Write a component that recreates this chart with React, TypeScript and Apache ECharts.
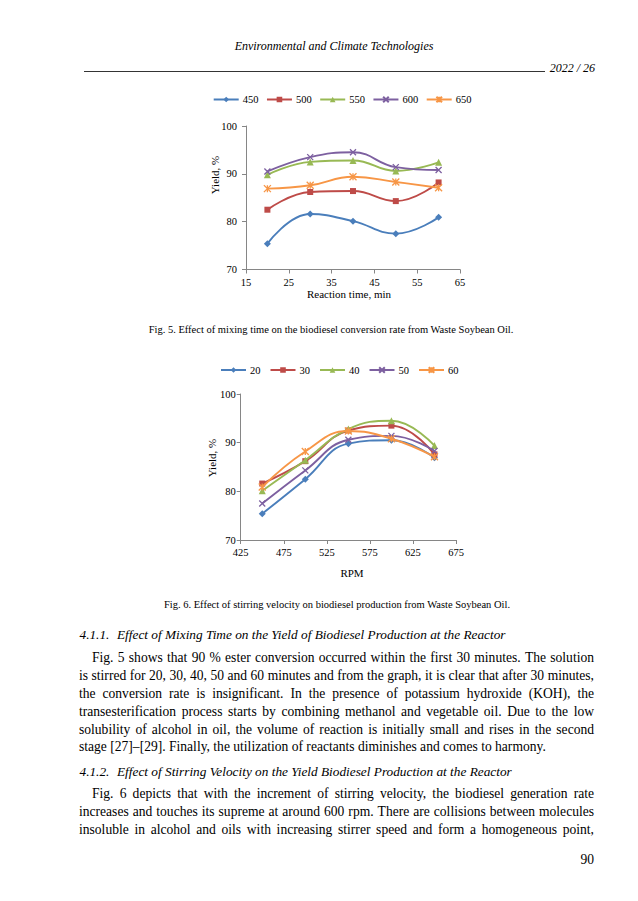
import React, { useEffect, useRef } from 'react';
import * as echarts from 'echarts';

// ---------- data ----------
const reactionTimes = [20, 30, 40, 50, 60];
const rpmValues = [450, 500, 550, 600, 650];
const yield450 = [75.4, 81.6, 80.1, 77.5, 80.9];
const yield500 = [82.5, 86.2, 86.4, 84.3, 88.2];
const yield550 = [89.8, 92.5, 92.8, 90.6, 92.4];
const yield600 = [90.5, 93.5, 94.5, 91.4, 90.8];
const yield650 = [86.9, 87.6, 89.4, 88.3, 87.1];
const yieldsByRpm = [yield450, yield500, yield550, yield600, yield650];

const timeAxisTicks = { min: 15, max: 65, interval: 10 };
const rpmAxisTicks = { min: 425, max: 675, interval: 50 };
const yieldAxisTicks = { min: 70, max: 100, interval: 10 };

const headerTitle = 'Environmental and Climate Technologies';
const headerIssue = '2022 / 26';
const caption5 = 'Fig. 5. Effect of mixing time on the biodiesel conversion rate from Waste Soybean Oil.';
const caption6 = 'Fig. 6. Effect of stirring velocity on biodiesel production from Waste Soybean Oil.';
const heading1Num = '4.1.1.';
const heading1Text = 'Effect of Mixing Time on the Yield of Biodiesel Production at the Reactor';
const heading2Num = '4.1.2.';
const heading2Text = 'Effect of Stirring Velocity on the Yield Biodiesel Production at the Reactor';
const para1 = [
  'Fig. 5 shows that 90 % ester conversion occurred within the first 30 minutes. The solution',
  'is stirred for 20, 30, 40, 50 and 60 minutes and from the graph, it is clear that after 30 minutes,',
  'the conversion rate is insignificant. In the presence of potassium hydroxide (KOH), the',
  'transesterification process starts by combining methanol and vegetable oil. Due to the low',
  'solubility of alcohol in oil, the volume of reaction is initially small and rises in the second',
  'stage [27]–[29]. Finally, the utilization of reactants diminishes and comes to harmony.',
];
const para2 = [
  'Fig. 6 depicts that with the increment of stirring velocity, the biodiesel generation rate',
  'increases and touches its supreme at around 600 rpm. There are collisions between molecules',
  'insoluble in alcohol and oils with increasing stirrer speed and form a homogeneous point,',
];
const pageNumber = '90';

// ---------- styles ----------
const FONT = '"Liberation Serif", "Times New Roman", serif';
const COLORS = ['#4A7EBB', '#BE4B48', '#98B954', '#7D60A0', '#F79646'];
const SYMBOLS = [
  'diamond',
  'rect',
  'triangle',
  'path://M0,0L10,10M10,0L0,10',
  'path://M0,0L10,10M10,0L0,10M5,0L5,10',
];
const SYMBOL_SIZES = [7, 6, 7, 6, 7];
const AXIS_GRAY = '#868686';

let measureCtx: CanvasRenderingContext2D | null = null;
function measure(text: string, size: number, italic = false) {
  if (!measureCtx) measureCtx = document.createElement('canvas').getContext('2d');
  if (!measureCtx) return text.length * size * 0.45;
  measureCtx.font = `${italic ? 'italic ' : ''}${size}px "Liberation Serif"`;
  return measureCtx.measureText(text).width;
}
function fitSize(text: string, width: number, italic = false) {
  return (12 * width) / measure(text, 12, italic);
}

function txt(text: string, x: number, y: number, size: number, opts: any = {}) {
  return {
    type: 'text',
    x,
    y,
    silent: true,
    style: {
      text,
      fontFamily: FONT,
      fontSize: size,
      fontStyle: opts.italic ? 'italic' : 'normal',
      fontWeight: opts.bold ? 'bold' : 'normal',
      fill: '#000',
      align: opts.align || 'left',
      verticalAlign: 'middle',
    },
    rotation: opts.rotation || 0,
  };
}

function justifiedLine(text: string, x: number, right: number, y: number, size: number, justify: boolean) {
  if (!justify) return [txt(text, x, y, size)];
  const words = text.split(' ');
  const widths = words.map((w) => measure(w, size));
  const sum = widths.reduce((a, b) => a + b, 0);
  const gap = (right - x - sum) / (words.length - 1);
  let cx = x;
  return words.map((w, i) => {
    const el = txt(w, cx, y, size);
    cx += widths[i] + gap;
    return el;
  });
}

function valueAxis(gridIndex: number, ticks: any, labelMargin: number) {
  return {
    type: 'value',
    gridIndex,
    min: ticks.min,
    max: ticks.max,
    interval: ticks.interval,
    axisLine: { show: true, onZero: false, lineStyle: { color: AXIS_GRAY, width: 1 } },
    axisTick: { show: true, inside: false, length: 4, lineStyle: { color: AXIS_GRAY, width: 1 } },
    axisLabel: { color: '#000', fontFamily: FONT, fontSize: 10.5, margin: labelMargin },
    splitLine: { show: false },
  };
}

function lineSeries(name: string, idx: number, axisIdx: number, data: number[][]) {
  const c = COLORS[idx];
  return {
    type: 'line',
    name,
    xAxisIndex: axisIdx,
    yAxisIndex: axisIdx,
    data,
    smooth: 0.45,
    symbol: SYMBOLS[idx],
    symbolSize: SYMBOL_SIZES[idx],
    showSymbol: true,
    lineStyle: { color: c, width: 1.9 },
    itemStyle: { color: c, borderColor: c, borderWidth: idx >= 3 ? 1.3 : 0 },
    emphasis: { disabled: true },
    z: 2 + idx,
  };
}

export default function App() {
  const ref = useRef<HTMLDivElement>(null);
  useEffect(() => {
    if (!ref.current) return;
    const chart = echarts.init(ref.current, undefined, { renderer: 'svg' });

    const series1 = rpmValues.map((r, i) =>
      lineSeries(String(r), i, 0, reactionTimes.map((t, j) => [t, yieldsByRpm[i][j]]))
    );
    const series2 = reactionTimes.map((t, j) =>
      lineSeries(String(t), j, 1, rpmValues.map((r, i) => [r, yieldsByRpm[i][j]]))
    );

    const LEFT = 79;
    const RIGHT = 594;
    // body font size chosen so the tightest justified line fills the measure
    const BODY = fitSize(para1[1], RIGHT - LEFT - 2);
    const HEAD = fitSize(heading1Text, 389, true);
    const CAP = (fitSize(caption5, 360) + fitSize(caption6, 352)) / 2;

    const graphics: any[] = [];
    // header
    graphics.push(txt(headerTitle, 334, 46, 12, { italic: true, align: 'center' }));
    graphics.push({
      type: 'line',
      silent: true,
      shape: { x1: 84, y1: 71.5, x2: 545, y2: 71.5 },
      style: { stroke: '#000', lineWidth: 0.8 },
    });
    graphics.push(txt(headerIssue, 595, 67.5, 12, { italic: true, align: 'right' }));
    // axis titles
    graphics.push(txt('Yield, %', 215, 175, 11, { align: 'center', rotation: Math.PI / 2 }));
    graphics.push(txt('Reaction time, min', 349, 293.5, 11, { align: 'center' }));
    graphics.push(txt('Yield, %', 211.5, 458, 11, { align: 'center', rotation: Math.PI / 2 }));
    graphics.push(txt('RPM', 352, 573, 11, { align: 'center' }));
    // captions
    graphics.push(txt(caption5, 331, 329.5, CAP, { align: 'center' }));
    graphics.push(txt(caption6, 337, 604, CAP, { align: 'center' }));
    // section 4.1.1
    graphics.push(txt(heading1Num, 79.5, 634, HEAD, { italic: true }));
    graphics.push(txt(heading1Text, 117, 634, HEAD, { italic: true }));
    const p1Y = [657, 675, 693, 711, 729, 746.5];
    para1.forEach((line, i) => {
      const x = i === 0 ? 92 : LEFT;
      graphics.push(...justifiedLine(line, x, RIGHT, p1Y[i], BODY, i < para1.length - 1));
    });
    // section 4.1.2
    graphics.push(txt(heading2Num, 79.5, 771, HEAD, { italic: true }));
    graphics.push(txt(heading2Text, 117, 771, HEAD, { italic: true }));
    const p2Y = [793, 811, 829];
    para2.forEach((line, i) => {
      const x = i === 0 ? 92 : LEFT;
      graphics.push(...justifiedLine(line, x, RIGHT, p2Y[i], BODY, true));
    });
    graphics.push(txt(pageNumber, 594, 859, BODY, { align: 'right' }));

    const legendBase = {
      itemWidth: 25,
      itemHeight: 7,
      textStyle: { color: '#000', fontFamily: FONT, fontSize: 10.5, padding: [0, 0, 0, -1] },
      selectedMode: false,
      orient: 'horizontal',
      padding: 0,
    };

    chart.setOption({
      animation: false,
      backgroundColor: '#fff',
      grid: [
        { left: 246, top: 126, width: 214, height: 143.5 },
        { left: 240.7, top: 394, width: 215.3, height: 146 },
      ],
      xAxis: [valueAxis(0, timeAxisTicks, 7), valueAxis(1, rpmAxisTicks, 7)],
      yAxis: [valueAxis(0, yieldAxisTicks, 9), valueAxis(1, yieldAxisTicks, 5)],
      legend: [
        { ...legendBase, left: 212.7, top: 94, itemGap: 7.5, data: rpmValues.map(String) },
        { ...legendBase, left: 220, top: 364.5, itemGap: 9, data: reactionTimes.map(String) },
      ],
      series: [...series1, ...series2],
      graphic: graphics,
    });
    return () => chart.dispose();
  }, []);
  return (
    <div
      ref={ref}
      style={{ position: 'absolute', left: 0, top: 0, width: 638, height: 901, background: '#fff' }}
    />
  );
}
